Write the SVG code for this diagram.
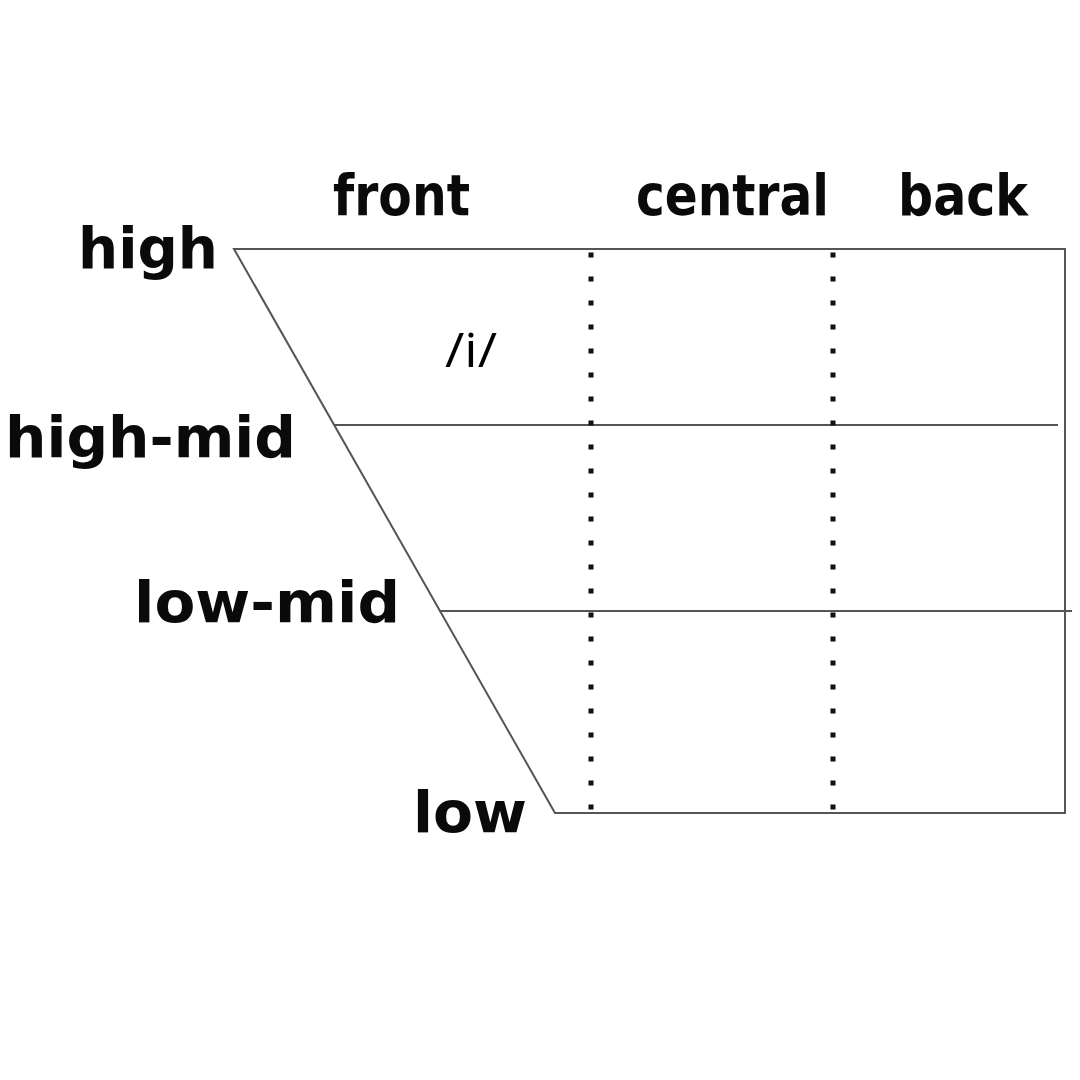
<svg xmlns="http://www.w3.org/2000/svg" width="1080" height="1080" viewBox="0 0 1080 1080">
<style>
.lbl{font-family:"DejaVu Sans","Liberation Sans",sans-serif;font-weight:bold;font-size:57px;fill:#0a0a0a}
.ln{stroke:#555;stroke-width:2;fill:none}
.dot{stroke:#111;stroke-width:5;stroke-dasharray:5 19;fill:none}
.ph{font-family:"Open Sans","Noto Sans",sans-serif;font-size:48px;fill:#000}
</style>
<rect width="1080" height="1080" fill="#fff"/>
<g id="chart">
<path class="ln" d="M234 249 L1065 249 L1065 813 L555 813 Z"/>
<line class="ln" x1="335" y1="425" x2="1058" y2="425"/>
<line class="ln" x1="439" y1="611" x2="1072" y2="611"/>
</g>
<g id="connectors">
<line class="dot" x1="591" y1="252.5" x2="591" y2="812"/>
<line class="dot" x1="833" y1="252.5" x2="833" y2="812"/>
</g>
<g id="col-front"><text class="lbl" x="333" y="215" textLength="137" lengthAdjust="spacingAndGlyphs">front</text></g>
<g id="col-central"><text class="lbl" x="636" y="215" textLength="193" lengthAdjust="spacingAndGlyphs">central</text></g>
<g id="col-back"><text class="lbl" x="898" y="215" textLength="130" lengthAdjust="spacingAndGlyphs">back</text></g>
<g id="row-high"><text class="lbl" x="78" y="268" textLength="140" lengthAdjust="spacingAndGlyphs">high</text></g>
<g id="row-high-mid"><text class="lbl" x="5" y="457" textLength="291" lengthAdjust="spacingAndGlyphs">high-mid</text></g>
<g id="row-low-mid"><text class="lbl" x="134" y="622" textLength="266" lengthAdjust="spacingAndGlyphs">low-mid</text></g>
<g id="row-low"><text class="lbl" x="413" y="832" textLength="114" lengthAdjust="spacingAndGlyphs">low</text></g>
<g id="vowel-i"><text class="ph" x="445" y="367" textLength="52" lengthAdjust="spacingAndGlyphs">/i/</text></g>
</svg>
